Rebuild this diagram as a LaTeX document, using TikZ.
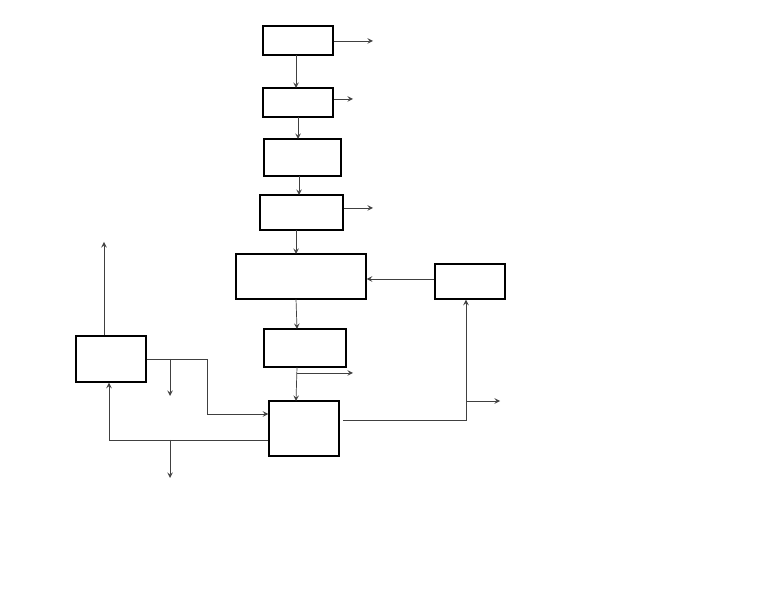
\documentclass[tikz,border=0pt]{standalone}
\begin{document}
\begin{tikzpicture}[x=0.02cm,y=-0.02cm,
  blk/.style={draw,thick,inner sep=0pt},
  con/.style={draw,black!75,->,>=stealth}]
\useasboundingbox (0,0) rectangle (768,594);
\node[blk,minimum width=1.4cm,minimum height=0.58cm] (A) at (298,40.5) {};
\node[blk,minimum width=1.4cm,minimum height=0.58cm] (B) at (298,102.5) {};
\node[blk,minimum width=1.54cm,minimum height=0.74cm] (C) at (302.5,157.5) {};
\node[blk,minimum width=1.66cm,minimum height=0.70cm] (D) at (301.5,212.5) {};
\node[blk,minimum width=2.6cm,minimum height=0.90cm] (E) at (301,276.5) {};
\node[blk,minimum width=1.4cm,minimum height=0.70cm] (F) at (470,281.5) {};
\node[blk,minimum width=1.64cm,minimum height=0.76cm] (G) at (305,348) {};
\node[blk,minimum width=1.4cm,minimum height=1.10cm] (H) at (304,428.5) {};
\node[blk,minimum width=1.4cm,minimum height=0.92cm] (L) at (111,359) {};
\coordinate (a1) at (373,41);
\coordinate (b1) at (353,99);
\coordinate (d1) at (373,208);
\coordinate (g1) at (353,373);
\coordinate (h1) at (500,401);
\coordinate (l1) at (104,242);
\coordinate (l2) at (170,396);
\coordinate (l3) at (170,478);
\draw[con] (296,55) -- (296,88);
\draw[con] (A.east|-a1) -- (a1);
\draw[con] (B.east|-b1) -- (b1);
\draw[con] (298,117) -- (298,139);
\draw[con] (299,176) -- (299,195);
\draw[con] (D.east|-d1) -- (d1);
\draw[con] (296,230) -- (296,254);
\draw[con] (F.west|-0,279) -- (E.east|-0,279);
\draw[con] (296,299) -- (297,329);
\draw[con] (297,367) -- (296,401);
\draw[con] (297,373) -- (g1);
\draw[con] (343,420) -- (466,420) -- (F.south-|466,0);
\draw[con] (466,401) -- (h1);
\draw[con] (L.north-|l1) -- (l1);
\draw[con] (L.east|-0,359) -- (207,359) -- (207,414) -- (H.west|-0,414);
\draw[con] (170,359) -- (l2);
\draw[con] (H.west|-0,440) -- (109,440) -- (L.south-|109,0);
\draw[con] (170,440) -- (l3);
\end{tikzpicture}
\end{document}
